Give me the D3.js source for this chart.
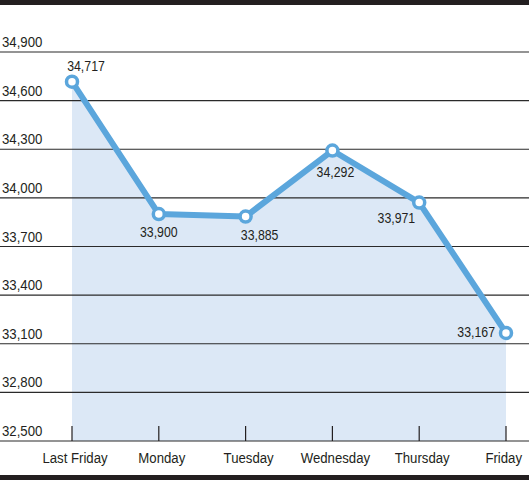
<!DOCTYPE html>
<html lang="en">
<head>
    <meta charset="UTF-8">
    <script src="https://d3js.org/d3.v7.min.js"></script>
    <style>
        body {margin: 0; background: #fff;}
        svg {display: block; font-family: "Liberation Sans", Arial, sans-serif;}
    </style>
</head>
<body>
<svg class="chart"></svg>
<script type="text/javascript">
    // data
    let days = ['Last Friday', 'Monday', 'Tuesday', 'Wednesday', 'Thursday', 'Friday'];
    let values = [34717, 33900, 33885, 34292, 33971, 33167];
    let yTicks = [32500, 32800, 33100, 33400, 33700, 34000, 34300, 34600, 34900];

    let width = 529, height = 480;
    let svg = d3.select('.chart').attr('width', width).attr('height', height);

    let x = d3.scalePoint().domain(days).range([72, 506]);
    let y = d3.scaleLinear().domain([32500, 34900]).range([441, 52]);
    let fmt = d3.format(',');
    let squeeze = 0.88;

    // condensed-looking text: squeeze horizontally
    function label(px, py, txt, size, anchor) {
        return svg.append('text')
            .attr('transform', `translate(${px},${py}) scale(${squeeze},1)`)
            .attr('font-size', size)
            .attr('fill', '#231f20')
            .attr('text-anchor', anchor || 'start')
            .text(txt);
    }

    // frame bars
    svg.append('rect').attr('x', 0).attr('y', 0).attr('width', width).attr('height', 5).attr('fill', '#231f20');
    svg.append('rect').attr('x', 0).attr('y', 475).attr('width', width).attr('height', 5).attr('fill', '#231f20');

    let data = days.map((d, i) => ({day: d, v: values[i]}));

    // area
    svg.append('path')
        .attr('fill', '#dce8f6')
        .attr('d', d3.area().x(d => x(d.day)).y0(y(32500)).y1(d => y(d.v))(data));

    // gridlines + labels
    yTicks.forEach(t => {
        svg.append('line')
            .attr('x1', 0).attr('x2', width)
            .attr('y1', y(t)).attr('y2', y(t))
            .attr('stroke', '#2a2a2a').attr('stroke-width', 1.2);
        label(2, y(t) - 5, fmt(t), 15);
    });

    // x ticks + labels
    days.forEach(d => {
        svg.append('line')
            .attr('x1', x(d)).attr('x2', x(d))
            .attr('y1', y(32500) - 15).attr('y2', y(32500))
            .attr('stroke', '#231f20').attr('stroke-width', 1.2);
        let t = label(0, 463, d, 15, 'middle');
        let half = t.node().getComputedTextLength() * squeeze / 2;
        let cx = Math.min(x(d) + 3, width - 7 - half);
        t.attr('transform', `translate(${cx},463) scale(${squeeze},1)`);
    });

    // line
    svg.append('path')
        .attr('fill', 'none')
        .attr('stroke', '#5ba6dc')
        .attr('stroke-width', 6)
        .attr('stroke-linejoin', 'round')
        .attr('d', d3.line().x(d => x(d.day)).y(d => y(d.v))(data));

    svg.selectAll('circle.pt').data(data).enter().append('circle')
        .attr('class', 'pt')
        .attr('cx', d => x(d.day)).attr('cy', d => y(d.v))
        .attr('r', 5.5)
        .attr('fill', '#fff')
        .attr('stroke', '#5ba6dc').attr('stroke-width', 3.5);

    // value labels (offsets from the point)
    let offs = [[14, -11, 'middle'], [0, 23, 'middle'], [14, 23, 'middle'], [3, 26, 'middle'], [-4, 20, 'end'], [-11, 4, 'end']];
    data.forEach((d, i) => {
        label(x(d.day) + offs[i][0], y(d.v) + offs[i][1], fmt(d.v), 14, offs[i][2]);
    });
</script>
</body>
</html>
